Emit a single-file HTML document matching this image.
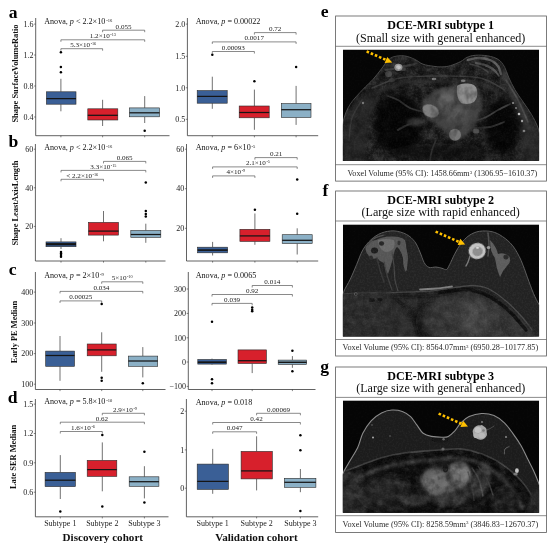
<!DOCTYPE html>
<html lang="en"><head><meta charset="utf-8"><title>Figure</title>
<style>
html,body{margin:0;padding:0;background:#fff;}
body{width:550px;height:548px;overflow:hidden;}
svg{display:block;font-family:"Liberation Serif","Times New Roman",serif;}
</style></head><body>
<svg width="550" height="548" viewBox="0 0 550 548">
<defs>
<filter id="b05" x="-30%" y="-30%" width="160%" height="160%"><feGaussianBlur stdDeviation="0.35"/></filter>
<filter id="b1" x="-30%" y="-30%" width="160%" height="160%"><feGaussianBlur stdDeviation="0.7"/></filter>
<filter id="b2" x="-40%" y="-40%" width="180%" height="180%"><feGaussianBlur stdDeviation="1.5"/></filter>
<filter id="b3" x="-50%" y="-50%" width="200%" height="200%"><feGaussianBlur stdDeviation="3.2"/></filter>
<filter id="noise" x="0" y="0" width="100%" height="100%">
<feTurbulence type="fractalNoise" baseFrequency="0.55" numOctaves="2" seed="3" result="t"/>
<feColorMatrix type="matrix" values="0 0 0 0 1  0 0 0 0 1  0 0 0 0 1  0.9 0 0 0 -0.28"/>
</filter>
<filter id="cloud" x="0" y="0" width="100%" height="100%">
<feTurbulence type="fractalNoise" baseFrequency="0.11 0.16" numOctaves="3" seed="11"/>
<feColorMatrix type="matrix" values="0 0 0 0 1  0 0 0 0 1  0 0 0 0 1  2.6 0 0 0 -1.05"/>
</filter>
<filter id="cloudk" x="0" y="0" width="100%" height="100%">
<feTurbulence type="fractalNoise" baseFrequency="0.13 0.1" numOctaves="3" seed="29"/>
<feColorMatrix type="matrix" values="0 0 0 0 0  0 0 0 0 0  0 0 0 0 0  0 2.6 0 0 -1.05"/>
</filter>
<filter id="streak" x="0" y="0" width="100%" height="100%">
<feTurbulence type="fractalNoise" baseFrequency="0.05 0.3" numOctaves="2" seed="5"/>
<feColorMatrix type="matrix" values="0 0 0 0 1  0 0 0 0 1  0 0 0 0 1  3 0 0 0 -1.3"/>
</filter>
</defs>
<rect width="550" height="548" fill="#fff"/>

<text x="8.8" y="17.7" font-size="17.6" font-weight="bold" fill="#000">a</text>
<text x="8.4" y="146.9" font-size="17.6" font-weight="bold" fill="#000">b</text>
<text x="8.7" y="274.7" font-size="17.6" font-weight="bold" fill="#000">c</text>
<text x="7.7" y="402.9" font-size="17.6" font-weight="bold" fill="#000">d</text>
<text x="320.7" y="17.3" font-size="17.6" font-weight="bold" fill="#000">e</text>
<text x="322.6" y="196.4" font-size="17.6" font-weight="bold" fill="#000">f</text>
<text x="320.3" y="371.8" font-size="17.6" font-weight="bold" fill="#000">g</text>
<text transform="translate(17.5 73.5) rotate(-90)" text-anchor="middle" font-size="8.4" font-weight="bold" fill="#111">Shape SurfaceVolumeRatio</text>
<text transform="translate(17.5 203) rotate(-90)" text-anchor="middle" font-size="8.4" font-weight="bold" fill="#111">Shape LeastAxisLength</text>
<text transform="translate(17.4 332) rotate(-90)" text-anchor="middle" font-size="8.4" font-weight="bold" fill="#111">Early PE Median</text>
<text transform="translate(16 457) rotate(-90)" text-anchor="middle" font-size="8.4" font-weight="bold" fill="#111">Late SER Median</text>
<path d="M35.7 18V135.7H169.5" fill="none" stroke="#3a3a3a" stroke-width="0.8"/>
<path d="M34.1 24.1H35.7" stroke="#333" stroke-width="0.6"/>
<text x="33.5" y="26.8" text-anchor="end" font-size="8" fill="#222">1.6</text>
<path d="M34.1 55H35.7" stroke="#333" stroke-width="0.6"/>
<text x="33.5" y="57.7" text-anchor="end" font-size="8" fill="#222">1.2</text>
<path d="M34.1 86H35.7" stroke="#333" stroke-width="0.6"/>
<text x="33.5" y="88.7" text-anchor="end" font-size="8" fill="#222">0.8</text>
<path d="M34.1 117H35.7" stroke="#333" stroke-width="0.6"/>
<text x="33.5" y="119.7" text-anchor="end" font-size="8" fill="#222">0.4</text>
<path d="M60.9 78.8V91.8M60.9 104.2V111.3" stroke="#333" stroke-width="0.7"/>
<rect x="46.4" y="91.8" width="29.6" height="12.4" fill="#3a5f96" stroke="#2a2a2a" stroke-width="0.6"/>
<path d="M46.4 98.6H76" stroke="#151515" stroke-width="1.25"/>
<path d="M60.9 135.7v1.6" stroke="#333" stroke-width="0.6"/>
<circle cx="60.9" cy="52.2" r="1.25" fill="#000"/>
<circle cx="60.9" cy="67" r="1.25" fill="#000"/>
<circle cx="60.9" cy="72.3" r="1.25" fill="#000"/>
<path d="M102.6 99.8V108.8M102.6 120V126" stroke="#333" stroke-width="0.7"/>
<rect x="87.8" y="108.8" width="30.0" height="11.2" fill="#d7202c" stroke="#2a2a2a" stroke-width="0.6"/>
<path d="M87.8 115.3H117.8" stroke="#151515" stroke-width="1.25"/>
<path d="M102.6 135.7v1.6" stroke="#333" stroke-width="0.6"/>
<path d="M144.7 96.1V107.9M144.7 116.8V123" stroke="#333" stroke-width="0.7"/>
<rect x="129.5" y="107.9" width="30.0" height="8.9" fill="#8bb0c6" stroke="#2a2a2a" stroke-width="0.6"/>
<path d="M129.5 112.8H159.5" stroke="#151515" stroke-width="1.25"/>
<path d="M144.7 135.7v1.6" stroke="#333" stroke-width="0.6"/>
<circle cx="144.7" cy="130.8" r="1.25" fill="#000"/>
<path d="M60.9 50.7V48.7H102.6V50.7" fill="none" stroke="#3a3a3a" stroke-width="0.6"/>
<text x="83.2" y="47.2" text-anchor="middle" font-size="7.1" fill="#222">5.3×10<tspan dx="0.5" dy="-2.2" font-size="4.2">-16</tspan></text>
<path d="M60.9 41.8V39.8H144.7V41.8" fill="none" stroke="#3a3a3a" stroke-width="0.6"/>
<text x="102.8" y="38.3" text-anchor="middle" font-size="7.1" fill="#222">1.2×10<tspan dx="0.5" dy="-2.2" font-size="4.2">-13</tspan></text>
<path d="M102.6 32.2V30.2H144.7V32.2" fill="none" stroke="#3a3a3a" stroke-width="0.6"/>
<text x="123.6" y="28.7" text-anchor="middle" font-size="7.1" fill="#222">0.055</text>
<text x="44.2" y="24.3" font-size="8.1" fill="#111">Anova, <tspan font-style="italic">p</tspan> &lt; 2.2×10<tspan dx="0.9" dy="-2.5" font-size="4.5">-16</tspan></text>
<path d="M187.4 18V135.7H318.2" fill="none" stroke="#3a3a3a" stroke-width="0.8"/>
<path d="M185.8 24.1H187.4" stroke="#333" stroke-width="0.6"/>
<text x="185.2" y="26.8" text-anchor="end" font-size="8" fill="#222">2.0</text>
<path d="M185.8 56.3H187.4" stroke="#333" stroke-width="0.6"/>
<text x="185.2" y="59.0" text-anchor="end" font-size="8" fill="#222">1.5</text>
<path d="M185.8 87.8H187.4" stroke="#333" stroke-width="0.6"/>
<text x="185.2" y="90.5" text-anchor="end" font-size="8" fill="#222">1.0</text>
<path d="M185.8 119.3H187.4" stroke="#333" stroke-width="0.6"/>
<text x="185.2" y="122.0" text-anchor="end" font-size="8" fill="#222">0.5</text>
<path d="M212.3 76.7V90.6M212.3 103.2V108.8" stroke="#333" stroke-width="0.7"/>
<rect x="197.2" y="90.6" width="30.0" height="12.6" fill="#3a5f96" stroke="#2a2a2a" stroke-width="0.6"/>
<path d="M197.2 96.4H227.2" stroke="#151515" stroke-width="1.25"/>
<path d="M212.3 135.7v1.6" stroke="#333" stroke-width="0.6"/>
<circle cx="212.3" cy="54.7" r="1.25" fill="#000"/>
<path d="M254.4 89.6V106M254.4 117.8V129.8" stroke="#333" stroke-width="0.7"/>
<rect x="239.2" y="106" width="30.0" height="11.8" fill="#d7202c" stroke="#2a2a2a" stroke-width="0.6"/>
<path d="M239.2 112.5H269.2" stroke="#151515" stroke-width="1.25"/>
<path d="M254.4 135.7v1.6" stroke="#333" stroke-width="0.6"/>
<circle cx="254.4" cy="81.3" r="1.25" fill="#000"/>
<path d="M296.1 85.9V103.6M296.1 117.5V124.9" stroke="#333" stroke-width="0.7"/>
<rect x="281.3" y="103.6" width="29.7" height="13.9" fill="#8bb0c6" stroke="#2a2a2a" stroke-width="0.6"/>
<path d="M281.3 109.7H311" stroke="#151515" stroke-width="1.25"/>
<path d="M296.1 135.7v1.6" stroke="#333" stroke-width="0.6"/>
<circle cx="296.1" cy="67" r="1.25" fill="#000"/>
<path d="M212.3 53.5V51.5H254.4V53.5" fill="none" stroke="#3a3a3a" stroke-width="0.6"/>
<text x="233.4" y="50.0" text-anchor="middle" font-size="7.1" fill="#222">0.00093</text>
<path d="M212.3 43.9V41.9H296.1V43.9" fill="none" stroke="#3a3a3a" stroke-width="0.6"/>
<text x="254.2" y="40.4" text-anchor="middle" font-size="7.1" fill="#222">0.0017</text>
<path d="M254.4 34.6V32.6H296.1V34.6" fill="none" stroke="#3a3a3a" stroke-width="0.6"/>
<text x="275.2" y="31.1" text-anchor="middle" font-size="7.1" fill="#222">0.72</text>
<text x="195.7" y="24.3" font-size="8.1" fill="#111">Anova, <tspan font-style="italic">p</tspan> = 0.00022</text>
<path d="M35.4 144V261H165.5" fill="none" stroke="#3a3a3a" stroke-width="0.8"/>
<path d="M33.8 149.2H35.4" stroke="#333" stroke-width="0.6"/>
<text x="33.2" y="151.9" text-anchor="end" font-size="8" fill="#222">60</text>
<path d="M33.8 187.8H35.4" stroke="#333" stroke-width="0.6"/>
<text x="33.2" y="190.5" text-anchor="end" font-size="8" fill="#222">40</text>
<path d="M33.8 226.4H35.4" stroke="#333" stroke-width="0.6"/>
<text x="33.2" y="229.1" text-anchor="end" font-size="8" fill="#222">20</text>
<path d="M61 238.2V241.9M61 246.7V249" stroke="#333" stroke-width="0.7"/>
<rect x="46" y="241.9" width="30.0" height="4.8" fill="#3a5f96" stroke="#2a2a2a" stroke-width="0.6"/>
<path d="M46 244.2H76" stroke="#151515" stroke-width="2.2"/>
<path d="M61 261v1.6" stroke="#333" stroke-width="0.6"/>
<circle cx="61" cy="252" r="1.25" fill="#000"/>
<circle cx="61" cy="253.5" r="1.25" fill="#000"/>
<circle cx="61" cy="255" r="1.25" fill="#000"/>
<circle cx="61" cy="256.7" r="1.25" fill="#000"/>
<path d="M103.5 211V222.4M103.5 235.1V241.3" stroke="#333" stroke-width="0.7"/>
<rect x="88.5" y="222.4" width="30.0" height="12.7" fill="#d7202c" stroke="#2a2a2a" stroke-width="0.6"/>
<path d="M88.5 231.1H118.5" stroke="#151515" stroke-width="1.25"/>
<path d="M103.5 261v1.6" stroke="#333" stroke-width="0.6"/>
<path d="M145.8 223.7V230.5M145.8 237.3V242.8" stroke="#333" stroke-width="0.7"/>
<rect x="130.8" y="230.5" width="30.0" height="6.8" fill="#8bb0c6" stroke="#2a2a2a" stroke-width="0.6"/>
<path d="M130.8 234.5H160.8" stroke="#151515" stroke-width="1.25"/>
<path d="M145.8 261v1.6" stroke="#333" stroke-width="0.6"/>
<circle cx="145.8" cy="182.5" r="1.25" fill="#000"/>
<circle cx="145.8" cy="211" r="1.25" fill="#000"/>
<circle cx="145.8" cy="214" r="1.25" fill="#000"/>
<circle cx="145.8" cy="216.5" r="1.25" fill="#000"/>
<path d="M61 181.3V179.3H103.5V181.3" fill="none" stroke="#3a3a3a" stroke-width="0.6"/>
<text x="82.2" y="177.8" text-anchor="middle" font-size="7.1" fill="#222">&lt; 2.2×10<tspan dx="0.5" dy="-2.2" font-size="4.2">-16</tspan></text>
<path d="M61 172.4V170.4H145.8V172.4" fill="none" stroke="#3a3a3a" stroke-width="0.6"/>
<text x="103.4" y="168.9" text-anchor="middle" font-size="7.1" fill="#222">3.3×10<tspan dx="0.5" dy="-2.2" font-size="4.2">-15</tspan></text>
<path d="M103.5 163.4V161.4H145.8V163.4" fill="none" stroke="#3a3a3a" stroke-width="0.6"/>
<text x="124.7" y="159.9" text-anchor="middle" font-size="7.1" fill="#222">0.065</text>
<text x="44.2" y="150.0" font-size="8.1" fill="#111">Anova, <tspan font-style="italic">p</tspan> &lt; 2.2×10<tspan dx="0.9" dy="-2.5" font-size="4.5">-16</tspan></text>
<path d="M186.5 144V261H318.2" fill="none" stroke="#3a3a3a" stroke-width="0.8"/>
<path d="M184.9 149.2H186.5" stroke="#333" stroke-width="0.6"/>
<text x="184.3" y="151.9" text-anchor="end" font-size="8" fill="#222">60</text>
<path d="M184.9 188.7H186.5" stroke="#333" stroke-width="0.6"/>
<text x="184.3" y="191.4" text-anchor="end" font-size="8" fill="#222">40</text>
<path d="M184.9 228.3H186.5" stroke="#333" stroke-width="0.6"/>
<text x="184.3" y="231.0" text-anchor="end" font-size="8" fill="#222">20</text>
<path d="M212.6 241.9V247.2M212.6 252.8V255.5" stroke="#333" stroke-width="0.7"/>
<rect x="197.6" y="247.2" width="30.0" height="5.6" fill="#3a5f96" stroke="#2a2a2a" stroke-width="0.6"/>
<path d="M197.6 250.1H227.6" stroke="#151515" stroke-width="1.6"/>
<path d="M212.6 261v1.6" stroke="#333" stroke-width="0.6"/>
<path d="M254.9 213.5V229.3M254.9 241.4V244.8" stroke="#333" stroke-width="0.7"/>
<rect x="239.9" y="229.3" width="30.0" height="12.1" fill="#d7202c" stroke="#2a2a2a" stroke-width="0.6"/>
<path d="M239.9 235.9H269.9" stroke="#151515" stroke-width="1.25"/>
<path d="M254.9 261v1.6" stroke="#333" stroke-width="0.6"/>
<circle cx="254.9" cy="209.8" r="1.25" fill="#000"/>
<path d="M297.2 228.3V234.7M297.2 243.5V254.5" stroke="#333" stroke-width="0.7"/>
<rect x="282.2" y="234.7" width="30.0" height="8.8" fill="#8bb0c6" stroke="#2a2a2a" stroke-width="0.6"/>
<path d="M282.2 240.3H312.2" stroke="#151515" stroke-width="1.25"/>
<path d="M297.2 261v1.6" stroke="#333" stroke-width="0.6"/>
<circle cx="297.2" cy="179.5" r="1.25" fill="#000"/>
<circle cx="297.2" cy="213.8" r="1.25" fill="#000"/>
<path d="M212.6 177.9V175.9H254.9V177.9" fill="none" stroke="#3a3a3a" stroke-width="0.6"/>
<text x="235.8" y="174.4" text-anchor="middle" font-size="7.1" fill="#222">4×10<tspan dx="0.5" dy="-2.2" font-size="4.2">-9</tspan></text>
<path d="M212.6 168.9V166.9H297.2V168.9" fill="none" stroke="#3a3a3a" stroke-width="0.6"/>
<text x="257.9" y="165.4" text-anchor="middle" font-size="7.1" fill="#222">2.1×10<tspan dx="0.5" dy="-2.2" font-size="4.2">-5</tspan></text>
<path d="M254.9 159.6V157.6H297.2V159.6" fill="none" stroke="#3a3a3a" stroke-width="0.6"/>
<text x="276.1" y="156.1" text-anchor="middle" font-size="7.1" fill="#222">0.21</text>
<text x="195.7" y="150.0" font-size="8.1" fill="#111">Anova, <tspan font-style="italic">p</tspan> = 6×10<tspan dx="0.9" dy="-2.5" font-size="4.5">-5</tspan></text>
<path d="M35.4 272V389.5H165.5" fill="none" stroke="#3a3a3a" stroke-width="0.8"/>
<path d="M33.8 292.1H35.4" stroke="#333" stroke-width="0.6"/>
<text x="33.2" y="294.8" text-anchor="end" font-size="8" fill="#222">400</text>
<path d="M33.8 323H35.4" stroke="#333" stroke-width="0.6"/>
<text x="33.2" y="325.7" text-anchor="end" font-size="8" fill="#222">300</text>
<path d="M33.8 353.6H35.4" stroke="#333" stroke-width="0.6"/>
<text x="33.2" y="356.3" text-anchor="end" font-size="8" fill="#222">200</text>
<path d="M33.8 384.2H35.4" stroke="#333" stroke-width="0.6"/>
<text x="33.2" y="386.9" text-anchor="end" font-size="8" fill="#222">100</text>
<path d="M60 336V351.1M60 366.3V380.8" stroke="#333" stroke-width="0.7"/>
<rect x="45.7" y="351.1" width="28.8" height="15.2" fill="#3a5f96" stroke="#2a2a2a" stroke-width="0.6"/>
<path d="M45.7 355.5H74.5" stroke="#151515" stroke-width="1.25"/>
<path d="M60 389.5v1.6" stroke="#333" stroke-width="0.6"/>
<path d="M101.7 332.3V344M101.7 355.8V371.8" stroke="#333" stroke-width="0.7"/>
<rect x="87.2" y="344" width="29.0" height="11.8" fill="#d7202c" stroke="#2a2a2a" stroke-width="0.6"/>
<path d="M87.2 349.9H116.2" stroke="#151515" stroke-width="1.25"/>
<path d="M101.7 389.5v1.6" stroke="#333" stroke-width="0.6"/>
<circle cx="101.7" cy="304.1" r="1.25" fill="#000"/>
<circle cx="101.7" cy="377.7" r="1.25" fill="#000"/>
<circle cx="101.7" cy="380.8" r="1.25" fill="#000"/>
<path d="M142.8 347.1V356.1M142.8 366.3V377.4" stroke="#333" stroke-width="0.7"/>
<rect x="128.3" y="356.1" width="29.4" height="10.2" fill="#8bb0c6" stroke="#2a2a2a" stroke-width="0.6"/>
<path d="M128.3 361H157.7" stroke="#151515" stroke-width="1.25"/>
<path d="M142.8 389.5v1.6" stroke="#333" stroke-width="0.6"/>
<circle cx="142.8" cy="383.3" r="1.25" fill="#000"/>
<path d="M60 302.9V300.9H101.7V302.9" fill="none" stroke="#3a3a3a" stroke-width="0.6"/>
<text x="80.8" y="299.4" text-anchor="middle" font-size="7.1" fill="#222">0.00025</text>
<path d="M60 293.4V291.4H142.8V293.4" fill="none" stroke="#3a3a3a" stroke-width="0.6"/>
<text x="101.4" y="289.9" text-anchor="middle" font-size="7.1" fill="#222">0.034</text>
<path d="M101.7 283.8V281.8H142.8V283.8" fill="none" stroke="#3a3a3a" stroke-width="0.6"/>
<text x="122.2" y="280.3" text-anchor="middle" font-size="7.1" fill="#222">5×10<tspan dx="0.5" dy="-2.2" font-size="4.2">-10</tspan></text>
<text x="44.2" y="278.1" font-size="8.1" fill="#111">Anova, <tspan font-style="italic">p</tspan> = 2×10<tspan dx="0.9" dy="-2.5" font-size="4.5">-9</tspan></text>
<path d="M188.3 272V389.5H315.5" fill="none" stroke="#3a3a3a" stroke-width="0.8"/>
<path d="M186.70000000000002 289H188.3" stroke="#333" stroke-width="0.6"/>
<text x="186.1" y="291.7" text-anchor="end" font-size="8" fill="#222">300</text>
<path d="M186.70000000000002 313.4H188.3" stroke="#333" stroke-width="0.6"/>
<text x="186.1" y="316.1" text-anchor="end" font-size="8" fill="#222">200</text>
<path d="M186.70000000000002 337.8H188.3" stroke="#333" stroke-width="0.6"/>
<text x="186.1" y="340.5" text-anchor="end" font-size="8" fill="#222">100</text>
<path d="M186.70000000000002 362H188.3" stroke="#333" stroke-width="0.6"/>
<text x="186.1" y="364.7" text-anchor="end" font-size="8" fill="#222">0</text>
<path d="M186.70000000000002 386.4H188.3" stroke="#333" stroke-width="0.6"/>
<text x="186.1" y="389.1" text-anchor="end" font-size="8" fill="#222">−100</text>
<path d="M212 358.6V359.5M212 364.1V364.7" stroke="#333" stroke-width="0.7"/>
<rect x="197.8" y="359.5" width="28.5" height="4.6" fill="#3a5f96" stroke="#2a2a2a" stroke-width="0.6"/>
<path d="M197.8 362.2H226.3" stroke="#151515" stroke-width="1.7"/>
<path d="M212 389.5v1.6" stroke="#333" stroke-width="0.6"/>
<circle cx="212" cy="321.8" r="1.25" fill="#000"/>
<circle cx="212" cy="379.3" r="1.25" fill="#000"/>
<circle cx="212" cy="383.3" r="1.25" fill="#000"/>
<path d="M252.2 349.9V349.9M252.2 363.5V373.1" stroke="#333" stroke-width="0.7"/>
<rect x="238" y="349.9" width="28.4" height="13.6" fill="#d7202c" stroke="#2a2a2a" stroke-width="0.6"/>
<path d="M238 360.7H266.4" stroke="#151515" stroke-width="1.25"/>
<path d="M252.2 389.5v1.6" stroke="#333" stroke-width="0.6"/>
<circle cx="252.2" cy="307.5" r="1.25" fill="#000"/>
<circle cx="252.2" cy="309.7" r="1.25" fill="#000"/>
<circle cx="252.2" cy="311.3" r="1.25" fill="#000"/>
<path d="M292.4 356.1V360.1M292.4 364.4V367.8" stroke="#333" stroke-width="0.7"/>
<rect x="278.2" y="360.1" width="28.4" height="4.3" fill="#8bb0c6" stroke="#2a2a2a" stroke-width="0.6"/>
<path d="M278.2 362.3H306.6" stroke="#151515" stroke-width="1.5"/>
<path d="M292.4 389.5v1.6" stroke="#333" stroke-width="0.6"/>
<circle cx="292.4" cy="350.8" r="1.25" fill="#000"/>
<circle cx="292.4" cy="371.2" r="1.25" fill="#000"/>
<path d="M212 305.4V303.4H252.2V305.4" fill="none" stroke="#3a3a3a" stroke-width="0.6"/>
<text x="232.1" y="301.9" text-anchor="middle" font-size="7.1" fill="#222">0.039</text>
<path d="M212 296.5V294.5H292.4V296.5" fill="none" stroke="#3a3a3a" stroke-width="0.6"/>
<text x="252.2" y="293.0" text-anchor="middle" font-size="7.1" fill="#222">0.92</text>
<path d="M252.2 287.5V285.5H292.4V287.5" fill="none" stroke="#3a3a3a" stroke-width="0.6"/>
<text x="272.3" y="284.0" text-anchor="middle" font-size="7.1" fill="#222">0.014</text>
<text x="195.7" y="278.1" font-size="8.1" fill="#111">Anova, <tspan font-style="italic">p</tspan> = 0.0065</text>
<path d="M35.4 399V516.8H168.5" fill="none" stroke="#3a3a3a" stroke-width="0.8"/>
<path d="M33.8 404.1H35.4" stroke="#333" stroke-width="0.6"/>
<text x="33.2" y="406.8" text-anchor="end" font-size="8" fill="#222">1.5</text>
<path d="M33.8 433.5H35.4" stroke="#333" stroke-width="0.6"/>
<text x="33.2" y="436.2" text-anchor="end" font-size="8" fill="#222">1.2</text>
<path d="M33.8 462.8H35.4" stroke="#333" stroke-width="0.6"/>
<text x="33.2" y="465.5" text-anchor="end" font-size="8" fill="#222">0.9</text>
<path d="M33.8 492.2H35.4" stroke="#333" stroke-width="0.6"/>
<text x="33.2" y="494.9" text-anchor="end" font-size="8" fill="#222">0.6</text>
<path d="M60.3 455.1V472.4M60.3 486.6V499" stroke="#333" stroke-width="0.7"/>
<rect x="45.1" y="472.4" width="30.3" height="14.2" fill="#3a5f96" stroke="#2a2a2a" stroke-width="0.6"/>
<path d="M45.1 480.2H75.4" stroke="#151515" stroke-width="1.25"/>
<path d="M60.3 516.8v1.6" stroke="#333" stroke-width="0.6"/>
<circle cx="60.3" cy="511.4" r="1.25" fill="#000"/>
<path d="M102.3 442.4V460.4M102.3 476.4V491.3" stroke="#333" stroke-width="0.7"/>
<rect x="87.2" y="460.4" width="29.6" height="16.0" fill="#d7202c" stroke="#2a2a2a" stroke-width="0.6"/>
<path d="M87.2 469.6H116.8" stroke="#151515" stroke-width="1.25"/>
<path d="M102.3 516.8v1.6" stroke="#333" stroke-width="0.6"/>
<circle cx="102.3" cy="435" r="1.25" fill="#000"/>
<circle cx="102.3" cy="506.4" r="1.25" fill="#000"/>
<path d="M144.4 466.2V476.8M144.4 486.3V498.4" stroke="#333" stroke-width="0.7"/>
<rect x="129.2" y="476.8" width="29.7" height="9.5" fill="#8bb0c6" stroke="#2a2a2a" stroke-width="0.6"/>
<path d="M129.2 481.7H158.9" stroke="#151515" stroke-width="1.25"/>
<path d="M144.4 516.8v1.6" stroke="#333" stroke-width="0.6"/>
<circle cx="144.4" cy="451.7" r="1.25" fill="#000"/>
<circle cx="144.4" cy="502.4" r="1.25" fill="#000"/>
<path d="M60.3 433.5V431.5H102.3V433.5" fill="none" stroke="#3a3a3a" stroke-width="0.6"/>
<text x="82.9" y="430.0" text-anchor="middle" font-size="7.1" fill="#222">1.6×10<tspan dx="0.5" dy="-2.2" font-size="4.2">-6</tspan></text>
<path d="M60.3 424.2V422.2H144.4V424.2" fill="none" stroke="#3a3a3a" stroke-width="0.6"/>
<text x="101.9" y="420.7" text-anchor="middle" font-size="7.1" fill="#222">0.62</text>
<path d="M102.3 415.3V413.3H144.4V415.3" fill="none" stroke="#3a3a3a" stroke-width="0.6"/>
<text x="124.9" y="411.8" text-anchor="middle" font-size="7.1" fill="#222">2.9×10<tspan dx="0.5" dy="-2.2" font-size="4.2">-9</tspan></text>
<text x="44.2" y="404.0" font-size="8.1" fill="#111">Anova, <tspan font-style="italic">p</tspan> = 5.8×10<tspan dx="0.9" dy="-2.5" font-size="4.5">-10</tspan></text>
<path d="M186.4 399V516.8H318.2" fill="none" stroke="#3a3a3a" stroke-width="0.8"/>
<path d="M184.8 411.2H186.4" stroke="#333" stroke-width="0.6"/>
<text x="184.2" y="413.9" text-anchor="end" font-size="8" fill="#222">2</text>
<path d="M184.8 449.9H186.4" stroke="#333" stroke-width="0.6"/>
<text x="184.2" y="452.6" text-anchor="end" font-size="8" fill="#222">1</text>
<path d="M184.8 488.2H186.4" stroke="#333" stroke-width="0.6"/>
<text x="184.2" y="490.9" text-anchor="end" font-size="8" fill="#222">0</text>
<path d="M212.7 448.9V464.1M212.7 489.4V493.8" stroke="#333" stroke-width="0.7"/>
<rect x="197.2" y="464.1" width="31.2" height="25.3" fill="#3a5f96" stroke="#2a2a2a" stroke-width="0.6"/>
<path d="M197.2 481.4H228.4" stroke="#151515" stroke-width="1.25"/>
<path d="M212.7 516.8v1.6" stroke="#333" stroke-width="0.6"/>
<path d="M256.6 436.3V451.4M256.6 478.9V490.4" stroke="#333" stroke-width="0.7"/>
<rect x="241.1" y="451.4" width="31.2" height="27.5" fill="#d7202c" stroke="#2a2a2a" stroke-width="0.6"/>
<path d="M241.1 470.9H272.3" stroke="#151515" stroke-width="1.25"/>
<path d="M256.6 516.8v1.6" stroke="#333" stroke-width="0.6"/>
<path d="M300.4 469V478.3M300.4 487.3V492.2" stroke="#333" stroke-width="0.7"/>
<rect x="284.4" y="478.3" width="31.5" height="9.0" fill="#8bb0c6" stroke="#2a2a2a" stroke-width="0.6"/>
<path d="M284.4 482.3H315.9" stroke="#151515" stroke-width="1.25"/>
<path d="M300.4 516.8v1.6" stroke="#333" stroke-width="0.6"/>
<circle cx="300.4" cy="435.3" r="1.25" fill="#000"/>
<circle cx="300.4" cy="450.2" r="1.25" fill="#000"/>
<circle cx="300.4" cy="511.1" r="1.25" fill="#000"/>
<path d="M212.7 433.8V431.8H256.6V433.8" fill="none" stroke="#3a3a3a" stroke-width="0.6"/>
<text x="234.7" y="430.3" text-anchor="middle" font-size="7.1" fill="#222">0.047</text>
<path d="M212.7 424.5V422.5H300.4V424.5" fill="none" stroke="#3a3a3a" stroke-width="0.6"/>
<text x="256.5" y="421.0" text-anchor="middle" font-size="7.1" fill="#222">0.42</text>
<path d="M256.6 415.3V413.3H300.4V415.3" fill="none" stroke="#3a3a3a" stroke-width="0.6"/>
<text x="278.5" y="411.8" text-anchor="middle" font-size="7.1" fill="#222">0.00069</text>
<text x="195.7" y="405.1" font-size="8.1" fill="#111">Anova, <tspan font-style="italic">p</tspan> = 0.018</text>
<text x="60.3" y="525.8" text-anchor="middle" font-size="8" fill="#222">Subtype 1</text>
<text x="102.3" y="525.8" text-anchor="middle" font-size="8" fill="#222">Subtype 2</text>
<text x="144.4" y="525.8" text-anchor="middle" font-size="8" fill="#222">Subtype 3</text>
<text x="212.7" y="525.8" text-anchor="middle" font-size="8" fill="#222">Subtype 1</text>
<text x="256.6" y="525.8" text-anchor="middle" font-size="8" fill="#222">Subtype 2</text>
<text x="300.4" y="525.8" text-anchor="middle" font-size="8" fill="#222">Subtype 3</text>
<text x="102.8" y="541.4" text-anchor="middle" font-size="11.1" font-weight="bold" fill="#111">Discovery cohort</text>
<text x="256.4" y="541.4" text-anchor="middle" font-size="11.1" font-weight="bold" fill="#111">Validation cohort</text>
<rect x="335.6" y="16" width="211" height="165.1" fill="#fff" stroke="#5a5a5a" stroke-width="0.8"/>
<path d="M335.6 46.3H546.6M335.6 164.7H546.6" stroke="#5a5a5a" stroke-width="0.7"/>
<text x="440.7" y="29.3" text-anchor="middle" font-size="12.1" font-weight="bold" fill="#000">DCE-MRI subtype 1</text>
<text x="440.7" y="41.7" text-anchor="middle" font-size="12.05" fill="#111">(Small size with general enhanced)</text>
<text x="442.4" y="176.2" text-anchor="middle" font-size="8.17" fill="#2a2a2a">Voxel Volume (95% CI): 1458.66mm<tspan dy="-2.6" font-size="5">3</tspan><tspan dy="2.6"> (1306.95−1610.37)</tspan></text>
<clipPath id="cp1"><rect x="342.9" y="49.5" width="196.2" height="111.5"/></clipPath>
<g clip-path="url(#cp1)"><rect x="342.9" y="49.5" width="196.2" height="111.5" fill="#050505"/>
<clipPath id="bd1"><path d="M340.0 164.0C340.2 160.0 340.9 147.3 341.5 140.0C342.1 132.7 342.0 126.0 343.5 120.0C345.0 114.0 347.1 109.2 350.3 104.1C353.5 99.0 359.0 93.8 362.8 89.6C366.6 85.4 370.1 82.7 373.2 79.2C376.3 75.7 379.1 71.9 381.5 68.8C383.9 65.7 385.6 62.5 387.7 60.5C389.8 58.5 391.2 57.5 394.0 56.7C396.8 55.9 400.9 55.5 404.4 55.9C407.9 56.3 411.7 58.0 414.8 59.4C417.9 60.8 419.9 63.1 423.0 64.2C426.1 65.4 430.3 65.8 433.5 66.3C436.7 66.8 439.2 67.0 442.0 66.9C444.8 66.8 447.3 66.6 450.4 65.7C453.5 64.8 458.0 62.9 460.8 61.5C463.6 60.1 464.6 58.4 467.0 57.4C469.4 56.4 471.8 55.5 475.3 55.3C478.8 55.0 484.0 55.2 487.8 55.9C491.6 56.6 495.4 57.6 498.2 59.4C501.0 61.2 502.7 63.8 504.4 66.7C506.1 69.7 506.9 73.3 508.6 77.1C510.3 80.9 512.4 85.4 514.8 89.6C517.2 93.8 520.4 97.9 523.2 102.1C526.0 106.2 529.1 110.3 531.5 114.5C533.9 118.7 536.2 122.8 537.7 127.0C539.2 131.2 540.0 133.8 540.5 140.0C541.0 146.2 540.9 160.0 541.0 164.0L541 164L340 164Z"/></clipPath>
<path d="M340.0 164.0C340.2 160.0 340.9 147.3 341.5 140.0C342.1 132.7 342.0 126.0 343.5 120.0C345.0 114.0 347.1 109.2 350.3 104.1C353.5 99.0 359.0 93.8 362.8 89.6C366.6 85.4 370.1 82.7 373.2 79.2C376.3 75.7 379.1 71.9 381.5 68.8C383.9 65.7 385.6 62.5 387.7 60.5C389.8 58.5 391.2 57.5 394.0 56.7C396.8 55.9 400.9 55.5 404.4 55.9C407.9 56.3 411.7 58.0 414.8 59.4C417.9 60.8 419.9 63.1 423.0 64.2C426.1 65.4 430.3 65.8 433.5 66.3C436.7 66.8 439.2 67.0 442.0 66.9C444.8 66.8 447.3 66.6 450.4 65.7C453.5 64.8 458.0 62.9 460.8 61.5C463.6 60.1 464.6 58.4 467.0 57.4C469.4 56.4 471.8 55.5 475.3 55.3C478.8 55.0 484.0 55.2 487.8 55.9C491.6 56.6 495.4 57.6 498.2 59.4C501.0 61.2 502.7 63.8 504.4 66.7C506.1 69.7 506.9 73.3 508.6 77.1C510.3 80.9 512.4 85.4 514.8 89.6C517.2 93.8 520.4 97.9 523.2 102.1C526.0 106.2 529.1 110.3 531.5 114.5C533.9 118.7 536.2 122.8 537.7 127.0C539.2 131.2 540.0 133.8 540.5 140.0C541.0 146.2 540.9 160.0 541.0 164.0L541 164L340 164Z" fill="#1d1d1d" filter="url(#b1)"/>
<rect x="342.9" y="49.5" width="196.2" height="111.5" filter="url(#cloud)" opacity="0.1" clip-path="url(#bd1)"/>
<rect x="342.9" y="49.5" width="196.2" height="111.5" filter="url(#cloudk)" opacity="0.3" clip-path="url(#bd1)"/>
<rect x="342.9" y="49.5" width="196.2" height="111.5" filter="url(#noise)" opacity="0.09" clip-path="url(#bd1)"/>
<rect x="342.9" y="49.5" width="196.2" height="111.5" filter="url(#noise)" opacity="0.035"/>
<g clip-path="url(#bd1)">
<path d="M343 120 L355 101 L373 88 L380 97 L369 120 L366 162 L343 162Z" fill="#2b2b2b" filter="url(#b2)" opacity="0.85"/>
<path d="M539 132 L527 108 L512 90 L505 97 L520 120 L524 162 L539 162Z" fill="#2e2e2e" filter="url(#b2)" opacity="0.85"/>
<ellipse cx="398" cy="123" rx="24" ry="30" fill="#050505" filter="url(#b3)" opacity="0.8"/>
<ellipse cx="502" cy="126" rx="17" ry="28" fill="#050505" filter="url(#b3)" opacity="0.8"/>
<ellipse cx="440" cy="152" rx="50" ry="9" fill="#080808" filter="url(#b3)" opacity="0.7"/>
<path d="M372.0 88.0C376.7 86.3 388.7 80.0 400.0 78.0C411.3 76.0 426.7 76.0 440.0 76.0C453.3 76.0 469.2 75.7 480.0 78.0C490.8 80.3 500.8 88.0 505.0 90.0" fill="none" stroke="#3c3c3c" stroke-width="1.6" stroke-linecap="round" filter="url(#b1)"/>
<path d="M376.0 93.0C380.3 91.3 391.3 85.0 402.0 83.0C412.7 81.0 427.3 81.0 440.0 81.0C452.7 81.0 468.0 80.8 478.0 83.0C488.0 85.2 496.3 92.2 500.0 94.0" fill="none" stroke="#2e2e2e" stroke-width="3" stroke-linecap="round" filter="url(#b2)"/>
<path d="M503.0 72.0C504.5 75.3 508.8 85.7 512.0 92.0C515.2 98.3 519.2 104.0 522.0 110.0C524.8 116.0 527.8 125.0 529.0 128.0" fill="none" stroke="#3a3a3a" stroke-width="5" stroke-linecap="round" filter="url(#b2)"/>
<path d="M506.0 80.0C508.0 83.3 514.3 93.0 518.0 100.0C521.7 107.0 526.3 118.3 528.0 122.0" fill="none" stroke="#505050" stroke-width="1.6" stroke-linecap="round" filter="url(#b1)"/>
<path d="M362.0 100.0C360.3 103.0 354.2 111.3 352.0 118.0C349.8 124.7 349.5 136.3 349.0 140.0" fill="none" stroke="#383838" stroke-width="1.4" stroke-linecap="round" filter="url(#b1)"/>
<path d="M470.0 122.0C472.3 121.3 479.3 120.0 484.0 118.0C488.7 116.0 493.7 112.3 498.0 110.0C502.3 107.7 508.0 105.0 510.0 104.0" fill="none" stroke="#3c3c3c" stroke-width="1.8" stroke-linecap="round" filter="url(#b1)"/>
<path d="M474.0 128.0C476.7 127.8 485.0 128.0 490.0 127.0C495.0 126.0 501.7 122.8 504.0 122.0" fill="none" stroke="#323232" stroke-width="1.8" stroke-linecap="round" filter="url(#b1)"/>
<path d="M424.0 112.0C421.7 111.3 414.3 110.0 410.0 108.0C405.7 106.0 401.7 102.0 398.0 100.0C394.3 98.0 389.7 96.7 388.0 96.0" fill="none" stroke="#333" stroke-width="1.8" stroke-linecap="round" filter="url(#b1)"/>
<path d="M424.0 122.0C421.7 122.3 414.3 122.7 410.0 124.0C405.7 125.3 400.0 129.0 398.0 130.0" fill="none" stroke="#2e2e2e" stroke-width="2" stroke-linecap="round" filter="url(#b1)"/>
<path d="M436.0 140.0C435.3 141.7 433.0 146.7 432.0 150.0C431.0 153.3 430.3 158.3 430.0 160.0" fill="none" stroke="#2e2e2e" stroke-width="1.6" stroke-linecap="round" filter="url(#b1)"/>
<path d="M422.6 101 L435.5 90 L457.5 84.6 L479.6 88.2 L481.4 105 L476 125 L465 138 L450 139.6 L442.8 128.6 L428 119.4Z" fill="#424242" filter="url(#b2)"/>
<path d="M441 90 L458 87 L470 104 L466 120 L448 122 L440 108Z" fill="#505050" filter="url(#b2)"/>
<path d="M457 86 Q460 83 468 83.6 Q476 84 477 90 Q478.5 97 474 102 Q468 105.5 461 103 Q456 98 457 86Z" fill="#8e8e8e" filter="url(#b1)"/>
<ellipse cx="446.5" cy="100.5" rx="8" ry="7" fill="#626262" filter="url(#b2)"/>
<ellipse cx="430.6" cy="111" rx="8.6" ry="6.2" fill="#7e7e7e" filter="url(#b1)" transform="rotate(25 430.6 111)"/>
<ellipse cx="455" cy="134.8" rx="6" ry="6" fill="#747474" filter="url(#b1)"/>
<ellipse cx="469" cy="120" rx="7" ry="4" fill="#4c4c4c" filter="url(#b2)" transform="rotate(-20 469 120)"/>
<ellipse cx="476" cy="131" rx="3.4" ry="2.6" fill="#505050" filter="url(#b1)"/>
<ellipse cx="415" cy="122" rx="8" ry="4" fill="#383838" filter="url(#b2)"/>
<ellipse cx="458" cy="112" rx="6" ry="5" fill="#585858" filter="url(#b2)"/>
<ellipse cx="434" cy="79" rx="2.4" ry="1.2" fill="#8a8a8a" filter="url(#b05)"/>
<ellipse cx="463.2" cy="80.7" rx="2.4" ry="1.2" fill="#777" filter="url(#b05)"/>
<path d="M468.0 60.0C469.7 59.7 474.3 58.0 478.0 58.0C481.7 58.0 486.7 58.7 490.0 60.0C493.3 61.3 496.2 63.7 498.0 66.0C499.8 68.3 500.5 72.7 501.0 74.0" fill="none" stroke="#626262" stroke-width="2.4" stroke-linecap="round" filter="url(#b1)"/>
<path d="M476.0 63.0C478.0 63.5 484.7 64.5 488.0 66.0C491.3 67.5 494.7 71.0 496.0 72.0" fill="none" stroke="#555" stroke-width="2.2" stroke-linecap="round" filter="url(#b1)"/>
<path d="M486.0 66.0C487.2 66.5 490.8 67.3 493.0 69.0C495.2 70.7 498.0 74.8 499.0 76.0" fill="none" stroke="#5a5a5a" stroke-width="1.6" stroke-linecap="round" filter="url(#b1)"/>
<path d="M470.0 64.0C471.7 64.5 477.0 65.7 480.0 67.0C483.0 68.3 486.7 71.2 488.0 72.0" fill="none" stroke="#444" stroke-width="1.6" stroke-linecap="round" filter="url(#b1)"/>
<path d="M386.0 70.0C387.3 69.8 391.0 69.2 394.0 68.6C397.0 68.0 400.7 67.1 404.0 66.4C407.3 65.7 412.3 64.7 414.0 64.4" fill="none" stroke="#404040" stroke-width="2.2" stroke-linecap="round" filter="url(#b1)"/>
<ellipse cx="388.5" cy="74" rx="3.5" ry="3" fill="#4a4a4a" filter="url(#b1)"/>
<ellipse cx="403" cy="69" rx="3" ry="2" fill="#444" filter="url(#b1)"/>
<ellipse cx="392" cy="80" rx="3" ry="2" fill="#3a3a3a" filter="url(#b1)"/>
<ellipse cx="398.4" cy="67.3" rx="4" ry="3.6" fill="#969696" filter="url(#b1)"/>
<ellipse cx="398.4" cy="67.3" rx="2.4" ry="2.1" fill="#c0c0c0" filter="url(#b1)"/>
<ellipse cx="519" cy="114" rx="1.3" ry="1.3" fill="#c0c0c0" filter="url(#b05)"/>
<ellipse cx="513" cy="103" rx="1.1" ry="1.1" fill="#999" filter="url(#b05)"/>
<ellipse cx="522" cy="121" rx="1.2" ry="1.2" fill="#aaa" filter="url(#b05)"/>
<ellipse cx="363" cy="103" rx="1.2" ry="1.2" fill="#777" filter="url(#b05)"/>
<ellipse cx="476" cy="96.5" rx="1" ry="1" fill="#999" filter="url(#b05)"/>
<ellipse cx="524" cy="131" rx="1.3" ry="1.3" fill="#888" filter="url(#b05)"/>
<ellipse cx="516" cy="108" rx="1" ry="1" fill="#888" filter="url(#b05)"/>
</g>
<path d="M340.0 164.0C340.2 160.0 340.9 147.3 341.5 140.0C342.1 132.7 342.0 126.0 343.5 120.0C345.0 114.0 347.1 109.2 350.3 104.1C353.5 99.0 359.0 93.8 362.8 89.6C366.6 85.4 370.1 82.7 373.2 79.2C376.3 75.7 379.1 71.9 381.5 68.8C383.9 65.7 385.6 62.5 387.7 60.5C389.8 58.5 391.2 57.5 394.0 56.7C396.8 55.9 400.9 55.5 404.4 55.9C407.9 56.3 411.7 58.0 414.8 59.4C417.9 60.8 419.9 63.1 423.0 64.2C426.1 65.4 430.3 65.8 433.5 66.3C436.7 66.8 439.2 67.0 442.0 66.9C444.8 66.8 447.3 66.6 450.4 65.7C453.5 64.8 458.0 62.9 460.8 61.5C463.6 60.1 464.6 58.4 467.0 57.4C469.4 56.4 471.8 55.5 475.3 55.3C478.8 55.0 484.0 55.2 487.8 55.9C491.6 56.6 495.4 57.6 498.2 59.4C501.0 61.2 502.7 63.8 504.4 66.7C506.1 69.7 506.9 73.3 508.6 77.1C510.3 80.9 512.4 85.4 514.8 89.6C517.2 93.8 520.4 97.9 523.2 102.1C526.0 106.2 529.1 110.3 531.5 114.5C533.9 118.7 536.2 122.8 537.7 127.0C539.2 131.2 540.0 133.8 540.5 140.0C541.0 146.2 540.9 160.0 541.0 164.0" fill="none" stroke="#4a4a4a" stroke-width="1.0" stroke-linecap="round" filter="url(#b1)"/>
<rect x="342.9" y="49.5" width="196.2" height="111.5" filter="url(#cloudk)" opacity="0.28" clip-path="url(#bd1)"/>
<rect x="342.9" y="49.5" width="196.2" height="111.5" filter="url(#noise)" opacity="0.06" clip-path="url(#bd1)"/>
<path d="M366.6 51.4L386.9 60.3" stroke="#ffc000" stroke-width="2.6" stroke-dasharray="2.6 1.9" fill="none"/>
<path d="M392.2 62.6L384.6 62.9L387.3 56.9Z" fill="#ffc000"/>
</g>
<rect x="335.6" y="191" width="211" height="165.0" fill="#fff" stroke="#5a5a5a" stroke-width="0.8"/>
<path d="M335.6 221H546.6M335.6 339.5H546.6" stroke="#5a5a5a" stroke-width="0.7"/>
<text x="440.7" y="203.7" text-anchor="middle" font-size="12.1" font-weight="bold" fill="#000">DCE-MRI subtype 2</text>
<text x="440.7" y="216" text-anchor="middle" font-size="12.05" fill="#111">(Large size with rapid enhanced)</text>
<text x="440.4" y="350.4" text-anchor="middle" font-size="8.24" fill="#2a2a2a">Voxel Volume (95% CI): 8564.07mm<tspan dy="-2.6" font-size="5">3</tspan><tspan dy="2.6"> (6950.28−10177.85)</tspan></text>
<clipPath id="cp2"><rect x="342.9" y="224.4" width="196.2" height="112.0"/></clipPath>
<g clip-path="url(#cp2)"><rect x="342.9" y="224.4" width="196.2" height="112.0" fill="#050505"/>
<clipPath id="bd2"><path d="M338.0 320.0C338.5 316.7 340.1 304.7 341.0 300.0C341.9 295.3 342.1 295.1 343.7 291.6C345.2 288.1 348.1 283.6 350.3 279.1C352.5 274.6 354.5 269.5 356.6 264.6C358.7 259.8 360.4 254.2 362.8 250.0C365.2 245.8 368.0 242.4 371.1 239.6C374.2 236.8 377.7 234.4 381.5 233.0C385.3 231.6 389.9 230.7 394.0 230.9C398.1 231.1 402.9 232.6 406.4 234.4C409.9 236.2 412.5 238.8 414.8 241.7C417.1 244.6 418.4 248.6 420.0 252.1C421.6 255.6 422.6 259.9 424.1 262.5C425.6 265.1 427.0 266.6 429.0 267.4C431.0 268.1 433.8 266.9 436.0 267.0C438.2 267.1 440.2 267.9 442.0 268.3C443.8 268.7 445.2 270.1 446.5 269.5C447.8 268.9 448.2 267.2 449.6 264.6C451.0 262.1 452.7 257.7 454.6 254.2C456.5 250.7 458.4 246.9 460.8 243.8C463.2 240.7 466.0 237.6 469.1 235.5C472.2 233.4 475.7 231.9 479.5 231.3C483.3 230.7 488.2 230.8 492.0 231.7C495.8 232.6 498.9 234.1 502.4 236.5C505.9 238.9 509.7 241.9 512.8 245.9C515.9 249.9 518.7 255.2 521.1 260.4C523.5 265.6 525.2 271.6 527.3 277.1C529.4 282.7 531.7 289.2 533.6 293.7C535.5 298.2 537.2 301.1 538.8 304.1C540.4 307.2 542.3 310.7 543.0 312.0L543 339.4L338 339.4Z"/></clipPath>
<path d="M338.0 320.0C338.5 316.7 340.1 304.7 341.0 300.0C341.9 295.3 342.1 295.1 343.7 291.6C345.2 288.1 348.1 283.6 350.3 279.1C352.5 274.6 354.5 269.5 356.6 264.6C358.7 259.8 360.4 254.2 362.8 250.0C365.2 245.8 368.0 242.4 371.1 239.6C374.2 236.8 377.7 234.4 381.5 233.0C385.3 231.6 389.9 230.7 394.0 230.9C398.1 231.1 402.9 232.6 406.4 234.4C409.9 236.2 412.5 238.8 414.8 241.7C417.1 244.6 418.4 248.6 420.0 252.1C421.6 255.6 422.6 259.9 424.1 262.5C425.6 265.1 427.0 266.6 429.0 267.4C431.0 268.1 433.8 266.9 436.0 267.0C438.2 267.1 440.2 267.9 442.0 268.3C443.8 268.7 445.2 270.1 446.5 269.5C447.8 268.9 448.2 267.2 449.6 264.6C451.0 262.1 452.7 257.7 454.6 254.2C456.5 250.7 458.4 246.9 460.8 243.8C463.2 240.7 466.0 237.6 469.1 235.5C472.2 233.4 475.7 231.9 479.5 231.3C483.3 230.7 488.2 230.8 492.0 231.7C495.8 232.6 498.9 234.1 502.4 236.5C505.9 238.9 509.7 241.9 512.8 245.9C515.9 249.9 518.7 255.2 521.1 260.4C523.5 265.6 525.2 271.6 527.3 277.1C529.4 282.7 531.7 289.2 533.6 293.7C535.5 298.2 537.2 301.1 538.8 304.1C540.4 307.2 542.3 310.7 543.0 312.0L543 339.4L338 339.4Z" fill="#242424" filter="url(#b1)"/>
<g clip-path="url(#bd2)">
<path d="M340 296 Q370 291 394 292 Q420 292 442 289 Q470 284 488 290 Q510 305 528 324 L545 345 L340 345Z" fill="#292929" filter="url(#b2)"/>
<ellipse cx="372" cy="300" rx="3" ry="2" fill="#151515" filter="url(#b1)"/>
<ellipse cx="380" cy="299.5" rx="2.6" ry="1.8" fill="#181818" filter="url(#b1)"/>
<path d="M396.0 300.0C398.3 301.7 406.3 305.8 410.0 310.0C413.7 314.2 416.3 320.3 418.0 325.0C419.7 329.7 419.7 335.8 420.0 338.0" fill="none" stroke="#1a1a1a" stroke-width="5" stroke-linecap="round" filter="url(#b2)"/>
<ellipse cx="431" cy="322" rx="15" ry="20" fill="#0c0c0c" filter="url(#b3)"/>
<path d="M392.0 296.0C395.8 296.0 407.0 296.3 415.0 296.0C423.0 295.7 430.8 295.0 440.0 294.0C449.2 293.0 462.0 290.0 470.0 290.0C478.0 290.0 482.2 291.0 488.0 294.0C493.8 297.0 502.2 305.7 505.0 308.0" fill="none" stroke="#111" stroke-width="3" stroke-linecap="round" filter="url(#b2)"/>
<ellipse cx="466" cy="320" rx="44" ry="27" fill="#363636" filter="url(#b3)"/>
<ellipse cx="474" cy="318" rx="14" ry="17" fill="#464646" filter="url(#b3)"/>
<path d="M508 308 Q524 320 534 337 L512 338 Q514 322 508 308Z" fill="#383838" filter="url(#b2)"/>
<path d="M440.0 292.5C443.7 292.0 456.0 289.8 462.0 289.5C468.0 289.2 471.3 289.8 476.0 291.0C480.7 292.2 485.7 294.7 490.0 297.0C494.3 299.3 498.0 301.8 502.0 305.0C506.0 308.2 510.0 311.8 514.0 316.0C518.0 320.2 524.0 327.7 526.0 330.0" fill="none" stroke="#0c0c0c" stroke-width="3.4" stroke-linecap="round" filter="url(#b1)"/>
<path d="M386.0 293.0C390.0 292.8 402.7 292.3 410.0 292.0C417.3 291.7 424.7 291.4 430.0 291.0C435.3 290.6 435.2 290.4 442.0 289.5C448.8 288.6 463.3 285.8 471.0 285.6C478.7 285.4 482.2 285.9 488.0 288.5C493.8 291.1 500.3 296.2 506.0 301.0C511.7 305.8 517.7 312.2 522.0 317.0C526.3 321.8 530.3 327.8 532.0 330.0" fill="none" stroke="#484848" stroke-width="1.2" stroke-linecap="round" filter="url(#b1)"/>
<path d="M420.0 289.5C422.7 289.3 430.7 289.0 436.0 288.5C441.3 288.0 449.3 286.8 452.0 286.5" fill="none" stroke="#7c7c7c" stroke-width="1.8" stroke-linecap="round" filter="url(#b1)"/>
<path d="M343.0 294.0C345.8 293.8 353.0 293.2 360.0 293.0C367.0 292.8 380.8 293.0 385.0 293.0" fill="none" stroke="#3a3a3a" stroke-width="1.2" stroke-linecap="round" filter="url(#b1)"/>
<path d="M365.5 247 Q369 241 376 240 Q383 236 392 236.5 Q400 236 405 240 Q407 246 406 254 Q408 262 406 272 Q403 268 403 258 Q401 250 397 247 Q394 250 393 258 Q391 266 388 274 Q385 270 384 263 Q380 262 377 258 Q372 260 369 256 Q365 252 365.5 247Z" fill="#545454" filter="url(#b1)"/>
<path d="M378 240 Q386 238 394 240 Q396 246 392 250 Q386 254 382 250 Q378 246 378 240Z" fill="#6a6a6a" filter="url(#b1)"/>
<path d="M384.0 262.0C384.5 264.2 385.7 270.3 387.0 275.0C388.3 279.7 391.2 287.5 392.0 290.0" fill="none" stroke="#3e3e3e" stroke-width="1.2" stroke-linecap="round" filter="url(#b1)"/>
<path d="M392.0 252.0C392.3 254.3 393.5 261.3 394.0 266.0C394.5 270.7 394.3 275.8 395.0 280.0C395.7 284.2 397.5 289.2 398.0 291.0" fill="none" stroke="#444" stroke-width="1.2" stroke-linecap="round" filter="url(#b1)"/>
<path d="M377.0 258.0C377.5 260.0 378.8 266.0 380.0 270.0C381.2 274.0 383.3 280.0 384.0 282.0" fill="none" stroke="#363636" stroke-width="1.4" stroke-linecap="round" filter="url(#b1)"/>
<path d="M404.0 244.0C404.5 246.0 406.7 251.7 407.0 256.0C407.3 260.3 406.2 267.7 406.0 270.0" fill="none" stroke="#555" stroke-width="1.6" stroke-linecap="round" filter="url(#b1)"/>
<path d="M368.0 245.0C369.0 243.9 371.3 240.2 374.0 238.5C376.7 236.8 382.3 235.6 384.0 235.0" fill="none" stroke="#4c4c4c" stroke-width="1.2" stroke-linecap="round" filter="url(#b1)"/>
<ellipse cx="374.5" cy="250.5" rx="3.6" ry="3" fill="#1e1e1e" filter="url(#b1)"/>
<ellipse cx="381.5" cy="243.5" rx="2.6" ry="2.2" fill="#262626" filter="url(#b1)"/>
<ellipse cx="371" cy="258" rx="2" ry="2.4" fill="#2a2a2a" filter="url(#b1)"/>
<ellipse cx="399" cy="243" rx="1.6" ry="2.4" fill="#333" filter="url(#b1)"/>
<path d="M490 240 Q496 246 498 254 Q504 252 509 256 Q512 262 507 266 Q503 270 500 277 Q496 268 495 258 Q490 252 490 240Z" fill="#5c5c5c" filter="url(#b1)"/>
<ellipse cx="506" cy="257" rx="2.6" ry="2.4" fill="#2a2a2a" filter="url(#b05)"/>
<path d="M488.0 233.0C488.2 235.0 489.0 241.2 489.0 245.0C489.0 248.8 488.2 254.2 488.0 256.0" fill="none" stroke="#4e4e4e" stroke-width="1.5" stroke-linecap="round" filter="url(#b1)"/>
<ellipse cx="477.2" cy="251" rx="8.6" ry="8.1" fill="#c4c4c4" filter="url(#b05)" transform="rotate(-15 477.2 251)"/>
<ellipse cx="477.6" cy="251.4" rx="5.2" ry="4.6" fill="#8e8e8e" filter="url(#b1)" transform="rotate(-15 477.6 251.4)"/>
<ellipse cx="477.5" cy="247.8" rx="1.6" ry="0.9" fill="#ddd" filter="url(#b05)"/>
<path d="M470.0 256.0C469.7 257.0 468.7 260.3 468.0 262.0C467.3 263.7 466.3 265.3 466.0 266.0" fill="none" stroke="#777" stroke-width="1.4" stroke-linecap="round" filter="url(#b1)"/>
<ellipse cx="488.5" cy="247.5" rx="1.8" ry="1.6" fill="#999" filter="url(#b05)"/>
<circle cx="355.8" cy="294" r="1.5" fill="none" stroke="#6a6a6a" stroke-width="0.6"/>
</g>
<path d="M338.0 320.0C338.5 316.7 340.1 304.7 341.0 300.0C341.9 295.3 342.1 295.1 343.7 291.6C345.2 288.1 348.1 283.6 350.3 279.1C352.5 274.6 354.5 269.5 356.6 264.6C358.7 259.8 360.4 254.2 362.8 250.0C365.2 245.8 368.0 242.4 371.1 239.6C374.2 236.8 377.7 234.4 381.5 233.0C385.3 231.6 389.9 230.7 394.0 230.9C398.1 231.1 402.9 232.6 406.4 234.4C409.9 236.2 412.5 238.8 414.8 241.7C417.1 244.6 418.4 248.6 420.0 252.1C421.6 255.6 422.6 259.9 424.1 262.5C425.6 265.1 427.0 266.6 429.0 267.4C431.0 268.1 433.8 266.9 436.0 267.0C438.2 267.1 440.2 267.9 442.0 268.3C443.8 268.7 445.2 270.1 446.5 269.5C447.8 268.9 448.2 267.2 449.6 264.6C451.0 262.1 452.7 257.7 454.6 254.2C456.5 250.7 458.4 246.9 460.8 243.8C463.2 240.7 466.0 237.6 469.1 235.5C472.2 233.4 475.7 231.9 479.5 231.3C483.3 230.7 488.2 230.8 492.0 231.7C495.8 232.6 498.9 234.1 502.4 236.5C505.9 238.9 509.7 241.9 512.8 245.9C515.9 249.9 518.7 255.2 521.1 260.4C523.5 265.6 525.2 271.6 527.3 277.1C529.4 282.7 531.7 289.2 533.6 293.7C535.5 298.2 537.2 301.1 538.8 304.1C540.4 307.2 542.3 310.7 543.0 312.0" fill="none" stroke="#5a5a5a" stroke-width="1.0" stroke-linecap="round" filter="url(#b1)"/>
<clipPath id="th2"><path d="M340 296 Q370 291 394 292 Q420 292 442 289 Q470 284 488 290 Q510 305 528 324 L545 345 L340 345Z"/></clipPath>
<rect x="342.9" y="224.4" width="196.2" height="112.0" filter="url(#cloud)" opacity="0.05" clip-path="url(#th2)"/>
<rect x="342.9" y="224.4" width="196.2" height="112.0" filter="url(#cloudk)" opacity="0.22" clip-path="url(#th2)"/>
<rect x="342.9" y="224.4" width="196.2" height="112.0" filter="url(#noise)" opacity="0.08" clip-path="url(#bd2)"/>
<rect x="342.9" y="224.4" width="196.2" height="112.0" filter="url(#noise)" opacity="0.035"/>
<path d="M435.6 231.6L459.9 242.3" stroke="#ffc000" stroke-width="2.6" stroke-dasharray="2.6 1.9" fill="none"/>
<path d="M465.2 244.6L457.6 244.9L460.3 238.8Z" fill="#ffc000"/>
</g>
<rect x="335.6" y="367" width="211" height="165.5" fill="#fff" stroke="#5a5a5a" stroke-width="0.8"/>
<path d="M335.6 397.4H546.6M335.6 515.7H546.6" stroke="#5a5a5a" stroke-width="0.7"/>
<text x="440.7" y="380.4" text-anchor="middle" font-size="12.1" font-weight="bold" fill="#000">DCE-MRI subtype 3</text>
<text x="440.7" y="392.3" text-anchor="middle" font-size="12.05" fill="#111">(Large size with general enhanced)</text>
<text x="440.4" y="526.7" text-anchor="middle" font-size="8.24" fill="#2a2a2a">Voxel Volume (95% CI): 8258.59mm<tspan dy="-2.6" font-size="5">3</tspan><tspan dy="2.6"> (3846.83−12670.37)</tspan></text>
<clipPath id="cp3"><rect x="342.9" y="400.4" width="196.2" height="112.3"/></clipPath>
<g clip-path="url(#cp3)"><rect x="342.9" y="400.4" width="196.2" height="112.3" fill="#050505"/>
<clipPath id="bd3"><path d="M337.0 490.0C337.7 488.0 339.9 481.1 341.0 478.0C342.1 474.9 342.1 474.6 343.7 471.7C345.2 468.8 348.0 464.3 350.3 460.3C352.6 456.3 355.5 452.3 357.6 447.8C359.7 443.3 360.6 437.8 362.8 433.3C365.1 428.8 368.0 424.2 371.1 420.8C374.2 417.4 378.0 414.7 381.5 412.9C385.0 411.1 388.4 410.2 391.9 410.0C395.4 409.8 399.2 410.3 402.3 411.4C405.4 412.5 408.2 414.4 410.6 416.6C413.0 418.9 414.7 422.1 416.8 424.9C418.9 427.7 420.7 431.4 423.1 433.3C425.5 435.2 428.2 435.8 431.4 436.4C434.5 437.0 439.2 437.2 442.0 437.2C444.8 437.2 446.2 437.4 448.3 436.4C450.4 435.4 452.5 433.4 454.6 431.2C456.7 428.9 458.4 425.3 460.8 422.9C463.2 420.5 465.6 418.2 469.1 416.6C472.6 415.0 477.5 413.7 481.6 413.5C485.8 413.3 490.2 414.0 494.0 415.6C497.8 417.2 501.3 419.9 504.4 422.9C507.5 425.8 510.0 429.5 512.8 433.3C515.6 437.1 518.7 441.6 521.1 445.7C523.5 449.8 525.2 454.0 527.3 458.2C529.4 462.4 531.7 466.5 533.6 470.7C535.5 474.9 537.2 479.1 538.8 483.2C540.4 487.2 542.3 493.0 543.0 495.0L543 515.7L337 515.7Z"/></clipPath>
<path d="M337.0 490.0C337.7 488.0 339.9 481.1 341.0 478.0C342.1 474.9 342.1 474.6 343.7 471.7C345.2 468.8 348.0 464.3 350.3 460.3C352.6 456.3 355.5 452.3 357.6 447.8C359.7 443.3 360.6 437.8 362.8 433.3C365.1 428.8 368.0 424.2 371.1 420.8C374.2 417.4 378.0 414.7 381.5 412.9C385.0 411.1 388.4 410.2 391.9 410.0C395.4 409.8 399.2 410.3 402.3 411.4C405.4 412.5 408.2 414.4 410.6 416.6C413.0 418.9 414.7 422.1 416.8 424.9C418.9 427.7 420.7 431.4 423.1 433.3C425.5 435.2 428.2 435.8 431.4 436.4C434.5 437.0 439.2 437.2 442.0 437.2C444.8 437.2 446.2 437.4 448.3 436.4C450.4 435.4 452.5 433.4 454.6 431.2C456.7 428.9 458.4 425.3 460.8 422.9C463.2 420.5 465.6 418.2 469.1 416.6C472.6 415.0 477.5 413.7 481.6 413.5C485.8 413.3 490.2 414.0 494.0 415.6C497.8 417.2 501.3 419.9 504.4 422.9C507.5 425.8 510.0 429.5 512.8 433.3C515.6 437.1 518.7 441.6 521.1 445.7C523.5 449.8 525.2 454.0 527.3 458.2C529.4 462.4 531.7 466.5 533.6 470.7C535.5 474.9 537.2 479.1 538.8 483.2C540.4 487.2 542.3 493.0 543.0 495.0L543 515.7L337 515.7Z" fill="#1b1b1b" filter="url(#b1)"/>
<g clip-path="url(#bd3)">
<path d="M340.0 474.0C341.0 473.4 342.4 472.3 346.2 470.7C350.0 469.1 356.6 466.6 362.8 464.4C369.0 462.1 376.7 459.1 383.6 457.2C390.5 455.3 397.5 454.1 404.4 453.0C411.3 451.9 418.9 451.4 425.2 450.9C431.5 450.4 436.1 450.2 442.0 449.9C447.9 449.6 454.2 448.2 460.8 448.9C467.4 449.6 474.7 451.4 481.6 454.0C488.5 456.6 495.5 459.5 502.4 464.4C509.3 469.3 517.7 476.6 523.2 483.2C528.7 489.8 532.8 497.9 535.6 504.0C538.4 510.1 539.3 517.3 540.0 520.0L340 520Z" fill="#0e0e0e" filter="url(#b1)"/>
<path d="M340.0 474.0C341.0 473.4 342.4 472.3 346.2 470.7C350.0 469.1 356.6 466.6 362.8 464.4C369.0 462.1 376.7 459.1 383.6 457.2C390.5 455.3 397.5 454.1 404.4 453.0C411.3 451.9 418.9 451.4 425.2 450.9C431.5 450.4 436.1 450.2 442.0 449.9C447.9 449.6 454.2 448.2 460.8 448.9C467.4 449.6 474.7 451.4 481.6 454.0C488.5 456.6 495.5 459.5 502.4 464.4C509.3 469.3 517.7 476.6 523.2 483.2C528.7 489.8 532.8 497.9 535.6 504.0C538.4 510.1 539.3 517.3 540.0 520.0" fill="none" stroke="#3e3e3e" stroke-width="1.6" stroke-linecap="round" filter="url(#b1)"/>
<path d="M350.0 476.0C352.7 474.8 360.2 470.9 366.0 468.5C371.8 466.1 378.5 463.3 385.0 461.5C391.5 459.7 398.3 458.5 405.0 457.5C411.7 456.5 418.8 456.0 425.0 455.5C431.2 455.0 436.2 454.8 442.0 454.5C447.8 454.2 453.7 452.8 460.0 453.5C466.3 454.2 473.5 456.0 480.0 458.5C486.5 461.0 492.7 463.9 499.0 468.5C505.3 473.1 512.8 479.8 518.0 486.0C523.2 492.2 528.0 502.7 530.0 506.0" fill="none" stroke="#0c0c0c" stroke-width="2.2" stroke-linecap="round" filter="url(#b1)"/>
<path d="M356.0 480.0C358.7 478.7 366.3 474.3 372.0 472.0C377.7 469.7 383.7 467.7 390.0 466.0C396.3 464.3 401.3 463.2 410.0 462.0C418.7 460.8 432.0 459.3 442.0 459.0C452.0 458.7 461.7 458.2 470.0 460.0C478.3 461.8 485.3 465.5 492.0 470.0C498.7 474.5 505.0 480.7 510.0 487.0C515.0 493.3 520.0 504.5 522.0 508.0" fill="none" stroke="#383838" stroke-width="3.6" stroke-linecap="round" filter="url(#b2)"/>
<path d="M340 469.6 L351 471.4 L362 477 L369.4 489.8 L365.7 516 L340 516Z" fill="#2c2c2c" filter="url(#b2)"/>
<path d="M542 488 L531 494 L525 516 L542 516Z" fill="#262626" filter="url(#b2)"/>
<ellipse cx="440" cy="439.4" rx="8.5" ry="3.2" fill="#141414" filter="url(#b1)"/>
<ellipse cx="443.6" cy="439.2" rx="1.2" ry="1.2" fill="#666" filter="url(#b05)"/>
<ellipse cx="385" cy="492" rx="26" ry="17" fill="#202020" filter="url(#b3)"/>
<ellipse cx="505" cy="500" rx="14" ry="12" fill="#1e1e1e" filter="url(#b3)"/>
<ellipse cx="450" cy="484" rx="30" ry="20" fill="#2c2c2c" filter="url(#b3)"/>
<path d="M421 478 Q424 469 434 468 Q441 468 445 473 Q447 464 457 461 Q468 461 471 471 Q472 480 465 486 Q458 490 452 492 Q444 497 434 496 Q422 492 421 478Z" fill="#585858" filter="url(#b2)"/>
<ellipse cx="460" cy="473.5" rx="9.5" ry="10" fill="#6e6e6e" filter="url(#b2)"/>
<ellipse cx="436" cy="482" rx="11" ry="10.5" fill="#686868" filter="url(#b2)"/>
<ellipse cx="445.5" cy="468.5" rx="2.6" ry="4" fill="#1a1a1a" filter="url(#b1)"/>
<ellipse cx="449" cy="500" rx="16" ry="6" fill="#383838" filter="url(#b2)"/>
<ellipse cx="481" cy="482" rx="9" ry="16" fill="#363636" filter="url(#b2)" transform="rotate(20 481 482)"/>
<path d="M472.0 468.0C473.2 470.0 477.2 475.3 479.0 480.0C480.8 484.7 482.3 493.3 483.0 496.0" fill="none" stroke="#4a4a4a" stroke-width="1.4" stroke-linecap="round" filter="url(#b1)"/>
<path d="M478.0 466.0C479.5 468.2 484.5 474.2 487.0 479.0C489.5 483.8 492.0 492.3 493.0 495.0" fill="none" stroke="#3c3c3c" stroke-width="1.4" stroke-linecap="round" filter="url(#b1)"/>
<path d="M468.0 472.0C468.7 474.3 471.0 481.3 472.0 486.0C473.0 490.7 473.7 497.7 474.0 500.0" fill="none" stroke="#404040" stroke-width="1.4" stroke-linecap="round" filter="url(#b1)"/>
<ellipse cx="415" cy="500" rx="14" ry="6" fill="#2e2e2e" filter="url(#b2)"/>
<path d="M473.4 429 Q476 425 480 425.4 Q482 424 484 426.4 Q487.4 428 486.6 432 Q488 436 484.4 438.4 Q481 440.6 477.6 439 Q473.4 437.6 473 433.6 Q472 431 473.4 429Z" fill="#a6a6a6" filter="url(#b1)"/>
<ellipse cx="478" cy="430" rx="3.4" ry="3" fill="#c2c2c2" filter="url(#b1)"/>
<ellipse cx="481.5" cy="435.5" rx="3.4" ry="2.8" fill="#b8b8b8" filter="url(#b1)"/>
<ellipse cx="476" cy="435.5" rx="2.6" ry="2.6" fill="#b4b4b4" filter="url(#b1)"/>
<ellipse cx="483.5" cy="430.5" rx="1.4" ry="1.2" fill="#7a7a7a" filter="url(#b05)"/>
<path d="M487.0 430.0C487.7 429.7 489.8 428.7 491.0 428.0C492.2 427.3 493.5 426.3 494.0 426.0" fill="none" stroke="#555" stroke-width="0.8" stroke-linecap="round" filter="url(#b05)"/>
<ellipse cx="516.9" cy="470.7" rx="1.9" ry="2.4" fill="#c4c4c4" filter="url(#b05)"/>
<ellipse cx="515.5" cy="474" rx="2.2" ry="1.6" fill="#777" filter="url(#b05)"/>
<path d="M504.4 454.0C504.5 453.2 504.2 450.2 505.0 449.0C505.8 447.8 508.3 447.0 509.0 446.6" fill="none" stroke="#666" stroke-width="0.9" stroke-linecap="round" filter="url(#b05)"/>
<circle cx="526.5" cy="449.5" r="1.4" fill="none" stroke="#8a8a8a" stroke-width="0.6"/>
<ellipse cx="373" cy="437.5" rx="1" ry="1" fill="#aaa" filter="url(#b05)"/>
<ellipse cx="482" cy="422" rx="0.9" ry="0.9" fill="#888" filter="url(#b05)"/>
<ellipse cx="506" cy="437" rx="1" ry="1" fill="#888" filter="url(#b05)"/>
<ellipse cx="390" cy="436" rx="0.8" ry="0.8" fill="#666" filter="url(#b05)"/>
<ellipse cx="372" cy="425" rx="0.7" ry="0.7" fill="#777" filter="url(#b05)"/>
<ellipse cx="443" cy="449" rx="1.6" ry="1.6" fill="#666" filter="url(#b05)"/>
</g>
<path d="M337.0 490.0C337.7 488.0 339.9 481.1 341.0 478.0C342.1 474.9 342.1 474.6 343.7 471.7C345.2 468.8 348.0 464.3 350.3 460.3C352.6 456.3 355.5 452.3 357.6 447.8C359.7 443.3 360.6 437.8 362.8 433.3C365.1 428.8 368.0 424.2 371.1 420.8C374.2 417.4 378.0 414.7 381.5 412.9C385.0 411.1 388.4 410.2 391.9 410.0C395.4 409.8 399.2 410.3 402.3 411.4C405.4 412.5 408.2 414.4 410.6 416.6C413.0 418.9 414.7 422.1 416.8 424.9C418.9 427.7 420.7 431.4 423.1 433.3C425.5 435.2 428.2 435.8 431.4 436.4C434.5 437.0 439.2 437.2 442.0 437.2C444.8 437.2 446.2 437.4 448.3 436.4C450.4 435.4 452.5 433.4 454.6 431.2C456.7 428.9 458.4 425.3 460.8 422.9C463.2 420.5 465.6 418.2 469.1 416.6C472.6 415.0 477.5 413.7 481.6 413.5C485.8 413.3 490.2 414.0 494.0 415.6C497.8 417.2 501.3 419.9 504.4 422.9C507.5 425.8 510.0 429.5 512.8 433.3C515.6 437.1 518.7 441.6 521.1 445.7C523.5 449.8 525.2 454.0 527.3 458.2C529.4 462.4 531.7 466.5 533.6 470.7C535.5 474.9 537.2 479.1 538.8 483.2C540.4 487.2 542.3 493.0 543.0 495.0" fill="none" stroke="#8a8a8a" stroke-width="1.1" stroke-linecap="round" filter="url(#b1)"/>
<clipPath id="th3"><path d="M340.0 474.0C341.0 473.4 342.4 472.3 346.2 470.7C350.0 469.1 356.6 466.6 362.8 464.4C369.0 462.1 376.7 459.1 383.6 457.2C390.5 455.3 397.5 454.1 404.4 453.0C411.3 451.9 418.9 451.4 425.2 450.9C431.5 450.4 436.1 450.2 442.0 449.9C447.9 449.6 454.2 448.2 460.8 448.9C467.4 449.6 474.7 451.4 481.6 454.0C488.5 456.6 495.5 459.5 502.4 464.4C509.3 469.3 517.7 476.6 523.2 483.2C528.7 489.8 532.8 497.9 535.6 504.0C538.4 510.1 539.3 517.3 540.0 520.0L340 520Z"/></clipPath>
<rect x="342.9" y="400.4" width="196.2" height="112.3" filter="url(#cloud)" opacity="0.09" clip-path="url(#th3)"/>
<rect x="342.9" y="400.4" width="196.2" height="112.3" filter="url(#cloudk)" opacity="0.4" clip-path="url(#th3)"/>
<rect x="342.9" y="400.4" width="196.2" height="112.3" filter="url(#noise)" opacity="0.06" clip-path="url(#bd3)"/>
<rect x="342.9" y="400.4" width="196.2" height="112.3" filter="url(#noise)" opacity="0.035"/>
<path d="M438.6 413.6L462.7 424.3" stroke="#ffc000" stroke-width="2.6" stroke-dasharray="2.6 1.9" fill="none"/>
<path d="M468.0 426.6L460.4 426.9L463.1 420.8Z" fill="#ffc000"/>
</g>
</svg></body></html>
